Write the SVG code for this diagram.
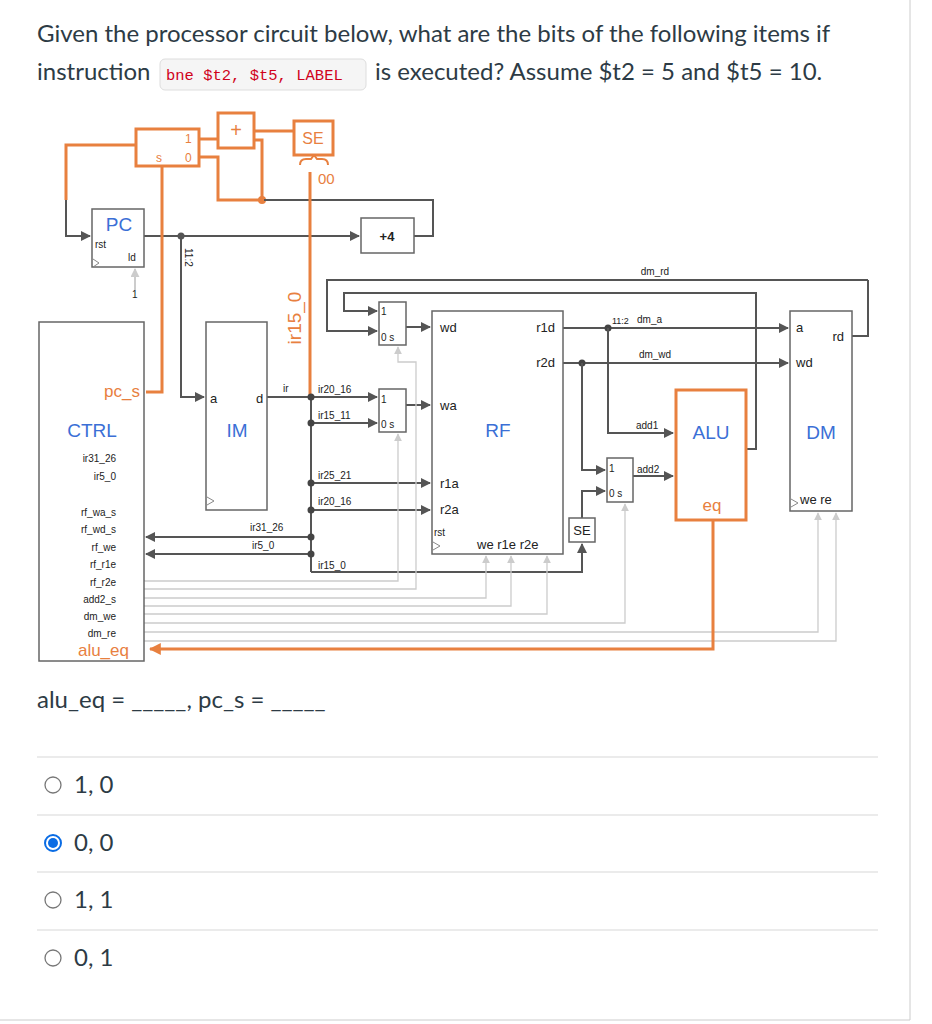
<svg xmlns="http://www.w3.org/2000/svg" width="932" height="1024" viewBox="0 0 932 1024">
<style>
.q{font-family:Lato,"Open Sans",sans-serif;font-size:24px;fill:#2d3b45}
.box{fill:#fff;stroke:#666;stroke-width:1.5}
.obox{fill:#fff;stroke:#e8803f;stroke-width:3}
.w{fill:none;stroke:#555;stroke-width:2}
.o{fill:none;stroke:#e8803f;stroke-width:3}
.l{fill:none;stroke:#ccc;stroke-width:1.3}
.d{fill:none;stroke:#999;stroke-width:1;stroke-dasharray:1.5 1.5}
.t{font-family:"Liberation Sans",Arial,sans-serif;font-size:13px;fill:#222}
.s{font-family:"Liberation Sans",Arial,sans-serif;font-size:10px;fill:#222}
.b{font-family:"Liberation Sans",Arial,sans-serif;font-size:19px;fill:#3b6fd6}
.or{font-family:"Liberation Sans",Arial,sans-serif;fill:#e8803f}
</style>
<defs>
<marker id="ad" viewBox="0 0 10 10" refX="9" refY="5" markerWidth="5" markerHeight="5" orient="auto"><path d="M0,0L10,5L0,10z" fill="#555"/></marker>
<marker id="al" viewBox="0 0 10 10" refX="9" refY="5" markerWidth="6" markerHeight="6" orient="auto"><path d="M0,0L10,5L0,10z" fill="#ccc"/></marker>
<marker id="ao" viewBox="0 0 10 10" refX="9" refY="5" markerWidth="4" markerHeight="4" orient="auto"><path d="M0,0L10,5L0,10z" fill="#e8803f"/></marker>
</defs>
<rect width="932" height="1024" fill="#fff"/>
<line x1="910" y1="0" x2="910" y2="1020" stroke="#ccc"/>
<line x1="0" y1="1020" x2="910" y2="1020" stroke="#ccc"/>
<text class="q" x="37" y="42">Given the processor circuit below, what are the bits of the following items if</text>
<text class="q" x="37" y="80">instruction</text>
<rect x="160" y="59" width="206" height="31" rx="5" fill="#f5f5f5" stroke="#ddd"/>
<text x="166" y="80" font-family="'Liberation Mono',monospace" font-size="15.5" fill="#d0021b">bne $t2, $t5, LABEL</text>
<text class="q" x="375" y="80">is executed? Assume $t2 = 5 and $t5 = 10.</text>

<g id="connectors">
<polyline class="o" points="136,145 66,145 66,200"/>
<polyline class="w" points="66,200 66,236 90,236" marker-end="url(#ad)"/>
<line class="o" x1="199" y1="139" x2="218" y2="139"/>
<polyline class="o" points="199,157 218,157 218,200 262,200"/>
<polyline class="o" points="254,140 262,140 262,200"/>
<line class="o" x1="254" y1="131" x2="294" y2="131"/>
<circle cx="262" cy="200" r="4" fill="#e8803f"/>
<polyline class="w" points="264,200 433,200 433,236 414,236"/>
<line class="w" x1="144" y1="236" x2="359" y2="236" marker-end="url(#ad)"/>
<circle cx="181" cy="236" r="3.5" fill="#555"/>
<polyline class="w" points="181,236 181,397 204,397" marker-end="url(#ad)"/>
<line x1="135" y1="290" x2="135" y2="269" stroke="#bbb" stroke-width="1.5" marker-end="url(#al)"/>
<polyline class="o" points="162,166 162,392 146,392"/>
<path d="M300,165 q0,-6 6,-6 h5 l3,-4 l3,4 h5 q6,0 6,6" fill="none" stroke="#e8803f" stroke-width="2"/>
<line class="o" x1="310" y1="172" x2="310" y2="397"/>
<line class="w" x1="267" y1="397" x2="310" y2="397"/>
<line class="w" x1="311" y1="397" x2="311" y2="572"/>
<line class="w" x1="311" y1="397" x2="377" y2="397" marker-end="url(#ad)"/>
<line class="w" x1="311" y1="423" x2="377" y2="423" marker-end="url(#ad)"/>
<line class="w" x1="311" y1="483" x2="430" y2="483" marker-end="url(#ad)"/>
<line class="w" x1="311" y1="510" x2="430" y2="510" marker-end="url(#ad)"/>
<line class="w" x1="311" y1="537" x2="146" y2="537" marker-end="url(#ad)"/>
<line class="w" x1="311" y1="554" x2="146" y2="554" marker-end="url(#ad)"/>
<polyline class="w" points="311,572 582,572 582,544" marker-end="url(#ad)"/>
<g fill="#444"><circle cx="311" cy="397" r="3.5"/><circle cx="311" cy="423" r="3.5"/><circle cx="311" cy="483" r="3.5"/><circle cx="311" cy="510" r="3.5"/><circle cx="311" cy="537" r="3.5"/><circle cx="311" cy="554" r="3.5"/></g>
<polyline class="w" points="868,280 868,336 852,336"/>
<polyline class="w" points="868,280 327,280 327,331 377,331" marker-end="url(#ad)"/>
<polyline class="w" points="746,449 756,449 756,293 344,293 344,311 377,311" marker-end="url(#ad)"/>
<line class="w" x1="406" y1="327" x2="430" y2="327" marker-end="url(#ad)"/>
<line class="w" x1="406" y1="405" x2="430" y2="405" marker-end="url(#ad)"/>
<line class="w" x1="563" y1="328" x2="788" y2="328" marker-end="url(#ad)"/>
<line class="w" x1="563" y1="363" x2="788" y2="363" marker-end="url(#ad)"/>
<circle cx="608" cy="328" r="3.5" fill="#444"/>
<circle cx="582" cy="363" r="3.5" fill="#444"/>
<polyline class="w" points="608,328 608,433 673,433" marker-end="url(#ad)"/>
<polyline class="w" points="582,363 582,470 605,470" marker-end="url(#ad)"/>
<polyline class="w" points="582,518 582,491 605,491" marker-end="url(#ad)"/>
<line class="w" x1="633" y1="476" x2="673" y2="476" marker-end="url(#ad)"/>
<polyline class="l" points="144,581 398,581 398,434" marker-end="url(#al)"/>
<polyline class="l" points="144,589 416,589 416,362 398,362 398,347" marker-end="url(#al)"/>
<polyline class="l" points="144,598 486,598 486,556" marker-end="url(#al)"/>
<polyline class="l" points="144,606 511,606 511,556" marker-end="url(#al)"/>
<polyline class="l" points="144,614 547,614 547,556" marker-end="url(#al)"/>
<polyline class="l" points="144,623 625,623 625,504" marker-end="url(#al)"/>
<polyline class="l" points="144,632 818,632 818,513" marker-end="url(#al)"/>
<polyline class="l" points="144,641 836,641 836,513" marker-end="url(#al)"/>
<polyline class="o" points="713,521 713,649 150,649" marker-end="url(#ao)"/>
<g class="d">
<path d="M118,456 L144,537"/><path d="M118,474 L144,554"/>
<path d="M118,509 L144,581"/><path d="M118,526 L144,589"/><path d="M118,544 L144,598"/><path d="M118,561 L144,606"/><path d="M118,579 L144,614"/><path d="M118,596 L144,623"/><path d="M118,613 L144,632"/><path d="M118,630 L144,641"/>
</g>
</g>

<g id="pcmux"><rect class="obox" x="136" y="129" width="63" height="37"/><text class="or" font-size="12" x="185" y="143">1</text><text class="or" font-size="12" x="185" y="162">0</text><text class="or" font-size="12" x="156" y="162">s</text></g>
<g id="add"><rect class="obox" x="218" y="113" width="36" height="35"/><text class="or" font-size="20" x="236" y="137" text-anchor="middle">+</text></g>
<g id="se1"><rect class="obox" x="294" y="121" width="39" height="34"/><text class="or" font-size="16" x="313" y="144" text-anchor="middle">SE</text><text class="or" font-size="15" x="318" y="184">00</text></g>
<text class="or" font-size="19" transform="translate(301,318) rotate(-90)" text-anchor="middle">ir15_0</text>
<g id="pc"><rect class="box" x="92" y="209" width="52" height="58"/><text class="b" x="119" y="231" text-anchor="middle">PC</text><text class="s" x="95" y="248" font-size="11">rst</text><text class="s" x="128" y="261" font-size="11">ld</text><path d="M93,259 l6,4 l-6,4" fill="none" stroke="#888"/><text class="s" x="132" y="298">1</text></g>
<g id="plus4"><rect class="box" x="361" y="218" width="53" height="35"/><text class="t" x="387" y="241" text-anchor="middle" font-weight="bold">+4</text></g>
<text class="s" font-size="9" transform="translate(185,248) rotate(90)">11:2</text>
<g id="ctrl"><rect class="box" x="39" y="322" width="105" height="339"/><text class="b" x="92" y="437" text-anchor="middle">CTRL</text>
<text class="or" font-size="17" x="140" y="397" text-anchor="end">pc_s</text>
<g class="s" text-anchor="end" font-size="11.5"><text x="116" y="462">ir31_26</text><text x="116" y="480">ir5_0</text><text x="116" y="516">rf_wa_s</text><text x="116" y="533">rf_wd_s</text><text x="116" y="551">rf_we</text><text x="116" y="568">rf_r1e</text><text x="116" y="586">rf_r2e</text><text x="116" y="603">add2_s</text><text x="116" y="620">dm_we</text><text x="116" y="637">dm_re</text></g>
<text class="or" font-size="17" x="129" y="656" text-anchor="end">alu_eq</text></g>
<g id="im"><rect class="box" x="206" y="322" width="61" height="188"/><text class="t" x="210" y="403">a</text><text class="t" x="256" y="403">d</text><text class="b" x="237" y="437" text-anchor="middle" font-size="17">IM</text><path d="M207,497 l7,4 l-7,4" fill="none" stroke="#888"/></g>
<g class="s" font-size="11"><text x="283" y="392">ir</text><text x="318" y="393">ir20_16</text><text x="318" y="419">ir15_11</text><text x="318" y="479">ir25_21</text><text x="318" y="505">ir20_16</text><text x="250" y="531">ir31_26</text><text x="252" y="549">ir5_0</text><text x="318" y="569">ir15_0</text></g>
<g id="mux1"><rect class="box" x="379" y="302" width="27" height="43"/><text class="s" x="381" y="315">1</text><text class="s" x="381" y="341">0 s</text></g>
<g id="mux2"><rect class="box" x="379" y="389" width="27" height="43"/><text class="s" x="381" y="403">1</text><text class="s" x="381" y="428">0 s</text></g>
<g id="rf"><rect class="box" x="432" y="311" width="131" height="243"/>
<g class="t"><text x="440" y="332">wd</text><text x="555" y="332" text-anchor="end">r1d</text><text x="555" y="367" text-anchor="end">r2d</text><text x="440" y="410">wa</text><text x="440" y="488">r1a</text><text x="440" y="514">r2a</text><text x="434" y="536" font-size="10">rst</text><text x="477" y="549">we r1e r2e</text></g>
<text class="b" x="498" y="437" text-anchor="middle" font-size="17">RF</text><path d="M433,542 l7,4 l-7,4" fill="none" stroke="#888"/></g>
<g id="se2"><rect class="box" x="569" y="518" width="26" height="24"/><text class="t" x="582" y="535" text-anchor="middle" font-size="12">SE</text></g>
<g class="s"><text x="655" y="275" text-anchor="middle">dm_rd</text><text x="612" y="324" font-size="9">11:2</text><text x="637" y="323">dm_a</text><text x="655" y="358" text-anchor="middle">dm_wd</text><text x="636" y="429">add1</text><text x="637" y="473">add2</text></g>
<g id="mux3"><rect class="box" x="607" y="458" width="26" height="44"/><text class="s" x="609" y="472">1</text><text class="s" x="609" y="497">0 s</text></g>
<g id="alu"><rect class="obox" x="676" y="390" width="70" height="130"/><text class="b" x="711" y="439" text-anchor="middle">ALU</text><text class="or" font-size="17" x="712" y="511" text-anchor="middle">eq</text></g>
<g id="dm"><rect class="box" x="790" y="311" width="62" height="200"/><text class="t" x="796" y="332">a</text><text class="t" x="844" y="341" text-anchor="end">rd</text><text class="t" x="796" y="367">wd</text><text class="b" x="821" y="439" text-anchor="middle" font-size="17">DM</text><text class="t" x="800" y="504">we re</text><path d="M791,499 l7,4 l-7,4" fill="none" stroke="#888"/></g>

<text class="q" x="37" y="708">alu_eq = _____, pc_s = _____</text>
<g stroke="#e5e5e5" stroke-width="1.5"><line x1="37" y1="757" x2="878" y2="757"/><line x1="37" y1="815" x2="878" y2="815"/><line x1="37" y1="872" x2="878" y2="872"/><line x1="37" y1="930" x2="878" y2="930"/></g>
<circle cx="53" cy="785" r="8" fill="#fff" stroke="#777" stroke-width="1.3"/>
<circle cx="53" cy="843" r="8" fill="#fff" stroke="#0a6ce4" stroke-width="2"/><circle cx="53" cy="843" r="5" fill="#0a6ce4"/>
<circle cx="53" cy="900" r="8" fill="#fff" stroke="#777" stroke-width="1.3"/>
<circle cx="53" cy="958" r="8" fill="#fff" stroke="#777" stroke-width="1.3"/>
<text class="q" x="74" y="793" font-size="22">1, 0</text><text class="q" x="74" y="851" font-size="22">0, 0</text><text class="q" x="74" y="908" font-size="22">1, 1</text><text class="q" x="74" y="966" font-size="22">0, 1</text>
</svg>
